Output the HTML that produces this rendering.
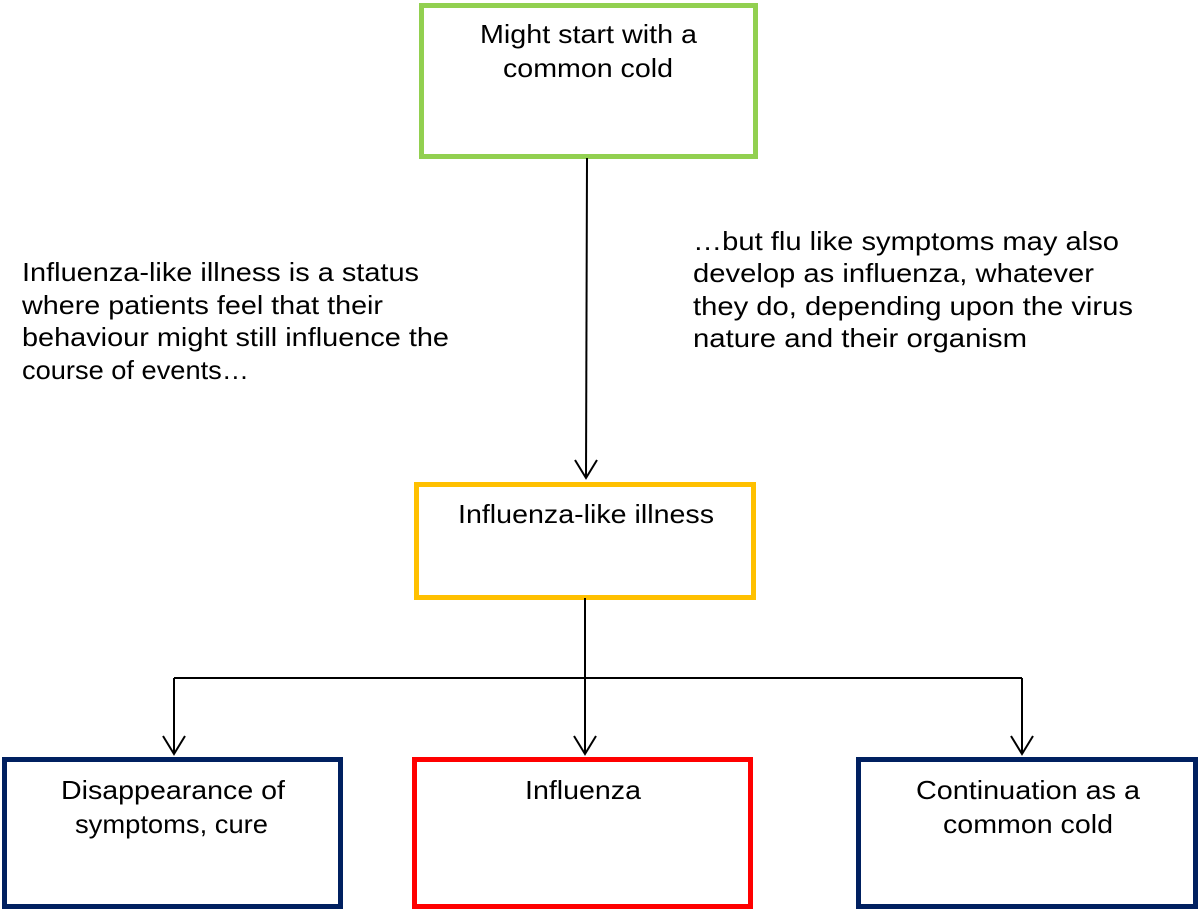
<!DOCTYPE html>
<html><head><meta charset="utf-8"><style>
html,body{margin:0;padding:0;background:#fff;}
svg{display:block;font-family:"Liberation Sans",Arial,sans-serif;}
</style></head><body>
<svg width="1200" height="910" viewBox="0 0 1200 910" xmlns="http://www.w3.org/2000/svg">
<g fill="none" stroke-width="5">
<rect x="421.5" y="5.5" width="334" height="151" stroke="#92d050"/>
<rect x="416.5" y="484.5" width="337" height="113" stroke="#ffc000"/>
<rect x="4.5" y="759.5" width="336" height="147" stroke="#002060"/>
<rect x="414.5" y="759.5" width="336" height="147" stroke="#ff0000"/>
<rect x="858.5" y="759.5" width="337" height="147" stroke="#002060"/>
</g>
<g fill="none" stroke="#000" stroke-width="2">
<path d="M587 158 L586 478"/>
<path d="M575 460 L586 478 L597 460"/>
<path d="M585 598 L585 678"/>
<path d="M174 678 L1022 678"/>
<path d="M174 678 L174 754 M163 736 L174 754 L185 736"/>
<path d="M585 678 L585 754 M574 736 L585 754 L596 736"/>
<path d="M1022 678 L1022 754 M1011 736 L1022 754 L1033 736"/>
</g>
<g font-size="26" fill="#000" lengthAdjust="spacingAndGlyphs">
<text x="480" y="43" textLength="217" lengthAdjust="spacingAndGlyphs">Might start with a</text>
<text x="503" y="77" textLength="170" lengthAdjust="spacingAndGlyphs">common cold</text>
<text x="458" y="523" textLength="256" lengthAdjust="spacingAndGlyphs">Influenza-like illness</text>
<text x="61" y="799" textLength="224" lengthAdjust="spacingAndGlyphs">Disappearance of</text>
<text x="75" y="833" textLength="193" lengthAdjust="spacingAndGlyphs">symptoms, cure</text>
<text x="525" y="799" textLength="116" lengthAdjust="spacingAndGlyphs">Influenza</text>
<text x="916" y="799" textLength="224" lengthAdjust="spacingAndGlyphs">Continuation as a</text>
<text x="943" y="833" textLength="170" lengthAdjust="spacingAndGlyphs">common cold</text>
<text x="22" y="281" textLength="397" lengthAdjust="spacingAndGlyphs">Influenza-like illness is a status</text>
<text x="22" y="314" textLength="361" lengthAdjust="spacingAndGlyphs">where patients feel that their</text>
<text x="22" y="346" textLength="427" lengthAdjust="spacingAndGlyphs">behaviour might still influence the</text>
<text x="22" y="379" textLength="227" lengthAdjust="spacingAndGlyphs">course of events…</text>
<text x="693" y="250" textLength="426" lengthAdjust="spacingAndGlyphs">…but flu like symptoms may also</text>
<text x="693" y="282" textLength="401" lengthAdjust="spacingAndGlyphs">develop as influenza, whatever</text>
<text x="693" y="315" textLength="440" lengthAdjust="spacingAndGlyphs">they do, depending upon the virus</text>
<text x="693" y="347" textLength="334" lengthAdjust="spacingAndGlyphs">nature and their organism</text>
</g>
</svg>
</body></html>
